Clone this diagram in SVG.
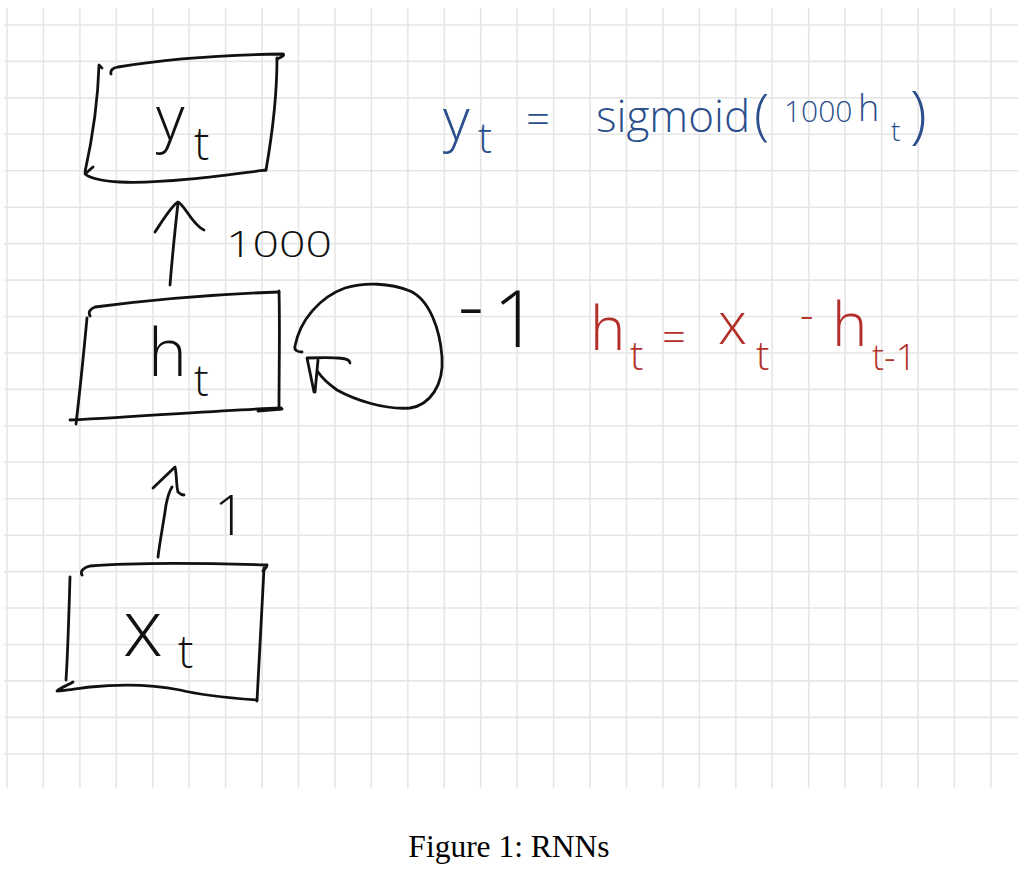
<svg xmlns="http://www.w3.org/2000/svg" width="1024" height="869" viewBox="0 0 1024 869">
  <defs>
    <style>
      .grid line { stroke: #e6e6e6; stroke-width: 1.6; }
      .ink { fill: none; stroke: #111; stroke-width: 2.8; stroke-linecap: round; stroke-linejoin: round; }
      .hand { font-family: "Open Sans", "Liberation Sans", sans-serif; font-weight: 300; }
      .blk { fill: #111; }
      .blue { fill: #2a4f8c; }
      .red { fill: #b3302a; }
      .caption { font-family: "Liberation Serif", "Times New Roman", serif; font-size: 31.5px; fill: #000; }
    </style>
  </defs>
  <rect x="0" y="0" width="1024" height="869" fill="#fff"/>

  <g id="grid" class="grid">
    <line x1="7" y1="8" x2="7" y2="788"/>
    <line x1="43.4" y1="8" x2="43.4" y2="788"/>
    <line x1="79.9" y1="8" x2="79.9" y2="788"/>
    <line x1="116.3" y1="8" x2="116.3" y2="788"/>
    <line x1="152.8" y1="8" x2="152.8" y2="788"/>
    <line x1="189.2" y1="8" x2="189.2" y2="788"/>
    <line x1="225.6" y1="8" x2="225.6" y2="788"/>
    <line x1="262.1" y1="8" x2="262.1" y2="788"/>
    <line x1="298.5" y1="8" x2="298.5" y2="788"/>
    <line x1="335" y1="8" x2="335" y2="788"/>
    <line x1="371.4" y1="8" x2="371.4" y2="788"/>
    <line x1="407.8" y1="8" x2="407.8" y2="788"/>
    <line x1="444.3" y1="8" x2="444.3" y2="788"/>
    <line x1="480.7" y1="8" x2="480.7" y2="788"/>
    <line x1="517.2" y1="8" x2="517.2" y2="788"/>
    <line x1="553.6" y1="8" x2="553.6" y2="788"/>
    <line x1="590" y1="8" x2="590" y2="788"/>
    <line x1="626.5" y1="8" x2="626.5" y2="788"/>
    <line x1="662.9" y1="8" x2="662.9" y2="788"/>
    <line x1="699.4" y1="8" x2="699.4" y2="788"/>
    <line x1="735.8" y1="8" x2="735.8" y2="788"/>
    <line x1="772.2" y1="8" x2="772.2" y2="788"/>
    <line x1="808.7" y1="8" x2="808.7" y2="788"/>
    <line x1="845.1" y1="8" x2="845.1" y2="788"/>
    <line x1="881.6" y1="8" x2="881.6" y2="788"/>
    <line x1="918" y1="8" x2="918" y2="788"/>
    <line x1="954.4" y1="8" x2="954.4" y2="788"/>
    <line x1="990.9" y1="8" x2="990.9" y2="788"/>
    <line x1="4" y1="25" x2="1018" y2="25"/>
    <line x1="4" y1="61.4" x2="1018" y2="61.4"/>
    <line x1="4" y1="97.9" x2="1018" y2="97.9"/>
    <line x1="4" y1="134.3" x2="1018" y2="134.3"/>
    <line x1="4" y1="170.8" x2="1018" y2="170.8"/>
    <line x1="4" y1="207.2" x2="1018" y2="207.2"/>
    <line x1="4" y1="243.6" x2="1018" y2="243.6"/>
    <line x1="4" y1="280.1" x2="1018" y2="280.1"/>
    <line x1="4" y1="316.5" x2="1018" y2="316.5"/>
    <line x1="4" y1="353" x2="1018" y2="353"/>
    <line x1="4" y1="389.4" x2="1018" y2="389.4"/>
    <line x1="4" y1="425.8" x2="1018" y2="425.8"/>
    <line x1="4" y1="462.3" x2="1018" y2="462.3"/>
    <line x1="4" y1="498.7" x2="1018" y2="498.7"/>
    <line x1="4" y1="535.2" x2="1018" y2="535.2"/>
    <line x1="4" y1="571.6" x2="1018" y2="571.6"/>
    <line x1="4" y1="608" x2="1018" y2="608"/>
    <line x1="4" y1="644.5" x2="1018" y2="644.5"/>
    <line x1="4" y1="680.9" x2="1018" y2="680.9"/>
    <line x1="4" y1="717.4" x2="1018" y2="717.4"/>
    <line x1="4" y1="753.8" x2="1018" y2="753.8"/>
  </g>

  <g id="node-yt">
    <path class="ink" d="M111,74 C110,70 113,68 118,67 C160,60 220,55 283,54 C285,55 282,57 277,59"/>
    <path class="ink" d="M277,58 C277,90 273,130 266,170"/>
    <path class="ink" d="M266,170 C220,176 160,184 120,182 C100,181 90,178 85,174 L93,167"/>
    <path class="ink" d="M102,68 L99,65 C98,100 92,140 85,172"/>
    <text class="hand blk"><tspan x="156" y="140" font-size="62">y</tspan><tspan x="194" y="160" font-size="46">t</tspan></text>
  </g>

  <g id="node-ht">
    <path class="ink" d="M90,316 C88,312 90,309 95,307 C150,300 220,294 279,292"/>
    <path class="ink" d="M279,291 C280,330 279,370 279,409"/>
    <path class="ink" d="M281,408 C240,409 150,416 70,420"/>
    <path class="ink" d="M258,411 L282,409" stroke-width="3.6"/>
    <path class="ink" d="M87,318 C84,350 80,390 76,424"/>
    <text class="hand blk"><tspan x="148" y="376" font-size="66">h</tspan><tspan x="194" y="396" font-size="44">t</tspan></text>
  </g>

  <g id="node-xt">
    <path class="ink" d="M82,575 C80,571 83,568 90,566 C140,562 200,563 267,565 C267,567 265,569 263,571"/>
    <path class="ink" d="M264,568 C262,610 259,660 257,701"/>
    <path class="ink" d="M257,700 C230,698 200,695 180,690 C150,684 120,684 90,687 C75,689 62,691 57,691 C60,688 68,685 73,682"/>
    <path class="ink" d="M70,577 C69,610 68,650 66,680"/>
    <text class="hand blk"><tspan x="123" y="656" font-size="80">x</tspan><tspan x="178" y="668" font-size="46">t</tspan></text>
  </g>

  <g id="connectors">
    <g id="edge-xt-ht">
      <path class="ink" d="M158,557 C160,540 164,520 166,505 C168,495 170,490 172,487" stroke-width="3.2"/>
      <path class="ink" d="M153,488 L175,467 C177,475 176,485 178,492 C180,494 182,495 184,495" stroke-width="3.2"/>
    </g>
    <g id="edge-ht-yt">
      <path class="ink" d="M170,285 C172,260 175,230 178,203"/>
      <path class="ink" d="M155,232 C163,220 172,205 178,202 C185,205 192,225 204,230"/>
    </g>
    <g id="edge-ht-ht">
      <path class="ink" d="M302,352 C297,352 294,350 295,346 C300,320 320,297 345,288 C365,282 390,283 410,291 C430,300 440,330 442,357 C444,385 430,405 410,408 C385,410 355,400 337,390 C330,385 322,378 318,372"/>
      <path class="ink" d="M350,363 C350,358 340,357 307,358 L314,392 M318,360 L315,392" stroke-width="3.2"/>
    </g>
  </g>

  <g id="edge-labels">
    <text class="hand blk" x="226" y="257" font-size="36" textLength="106" lengthAdjust="spacingAndGlyphs">1000</text>
    <text class="hand blk" x="214" y="535" font-size="56" font-weight="700">1</text>
    <text class="hand blk"><tspan x="458" y="333" font-size="80">-</tspan><tspan x="493" y="347" font-size="80">1</tspan></text>
  </g>

  <g id="eq-yt">
    <text class="hand blue"><tspan x="443" y="140" font-size="58">y</tspan><tspan x="478" y="153" font-size="42">t</tspan><tspan x="515" y="134" font-size="42"> = </tspan><tspan x="596" y="132" font-size="44">sigmoid</tspan><tspan x="754" y="134" font-size="56">(</tspan><tspan x="784" y="122" font-size="30">1000</tspan><tspan x="858" y="121" font-size="36">h</tspan><tspan x="891" y="141" font-size="28">t</tspan><tspan x="910" y="136" font-size="62">)</tspan></text>
  </g>

  <g id="eq-ht">
    <text class="hand red"><tspan x="590" y="350" font-size="60">h</tspan><tspan x="630" y="370" font-size="40">t</tspan><tspan x="662" y="352" font-size="42">=</tspan><tspan x="718" y="344" font-size="58">x</tspan><tspan x="756" y="370" font-size="40">t</tspan><tspan x="800" y="330" font-size="42">-</tspan><tspan x="832" y="346" font-size="60">h</tspan><tspan x="872" y="370" font-size="36">t-1</tspan></text>
  </g>

  <text class="caption" x="509" y="857" text-anchor="middle">Figure 1: RNNs</text>
</svg>
